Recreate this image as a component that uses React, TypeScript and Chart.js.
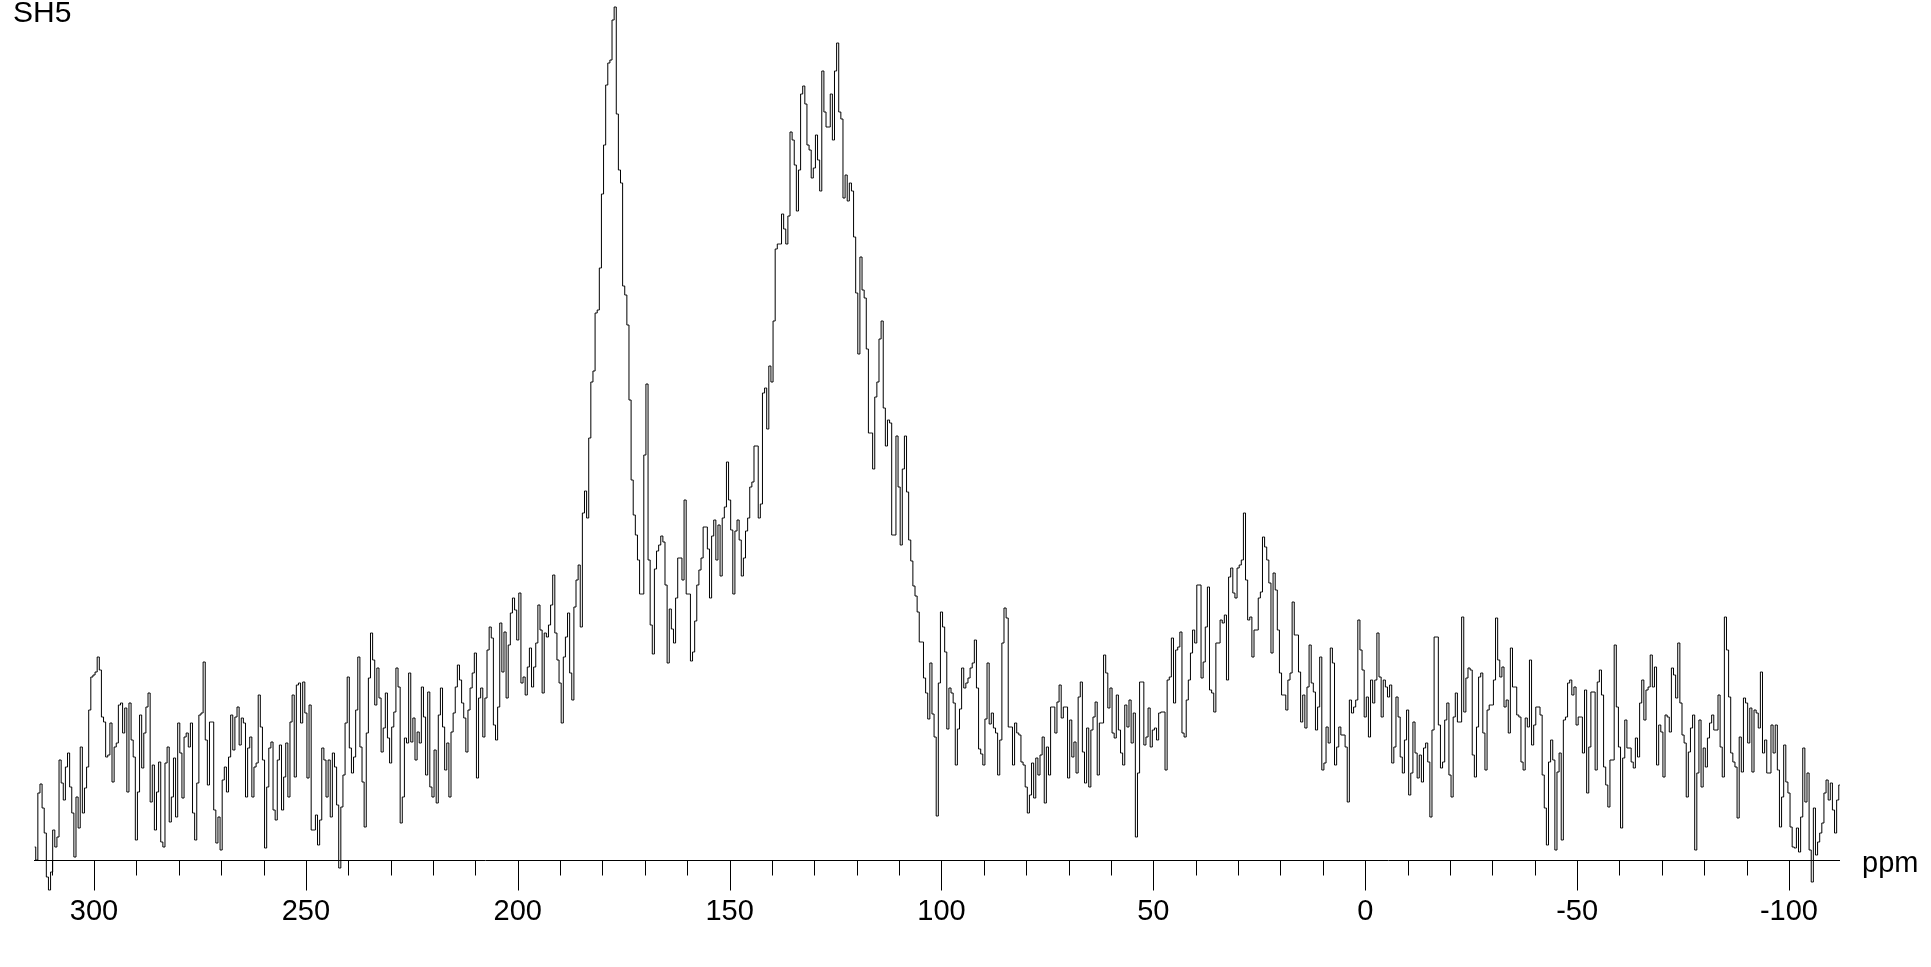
import React, { useEffect, useRef } from "react";
import { Chart, registerables } from "chart.js";

Chart.register(...registerables);

// ---- axis / text ----
const TITLE = "SH5";
const UNIT_LABEL = "ppm";
const AXIS_LEFT_PPM = 314.16;
const AXIS_RIGHT_PPM = -112.04;
const Y_MIN = -107;
const Y_MAX = 860;
const LABEL_TICKS = [300, 250, 200, 150, 100, 50, 0, -50, -100];
const MINOR_TICKS = [
  310, 300, 290, 280, 270, 260, 250, 240, 230, 220, 210, 200, 190, 180, 170, 160, 150, 140, 130, 120, 110,
  100, 90, 80, 70, 60, 50, 40, 30, 20, 10, 0, -10, -20, -30, -40, -50, -60, -70, -80, -90, -100,
];

// ---- spectrum: chemical shift grid ----
const START_PPM = 314;
const STEP_PPM = 0.5;

// ---- spectrum intensities (arbitrary units), one array per 10 ppm block ----
const seg314to300 = [13, 0, 67, 76, 52, 27, -17, -30, -12, 30, 13, 23, 100, 77, 60, 93, 107, 73, 47, 3, 63, 32, 113, 47, 72, 93, 150, 183];
const seg300to290 = [185, 188, 203, 190, 143, 138, 103, 105, 137, 78, 113, 117, 155, 157, 127, 152, 68, 157, 120, 103];
const seg290to280 = [20, 68, 145, 92, 127, 153, 167, 58, 95, 30, 68, 98, 18, 13, 97, 113, 38, 63, 102, 43];
const seg280to270 = [137, 107, 62, 123, 127, 113, 137, 47, 20, 77, 145, 147, 198, 120, 75, 138, 138, 50, 17, 43];
const seg270to260 = [10, 80, 93, 68, 103, 145, 110, 143, 153, 115, 142, 137, 63, 112, 123, 63, 93, 97, 165, 133];
const seg260to250 = [100, 12, 73, 112, 118, 50, 40, 100, 115, 50, 83, 117, 63, 138, 165, 83, 175, 177, 137, 178];
const seg250to240 = [147, 82, 155, 30, 30, 45, 15, 40, 112, 100, 63, 100, 43, 107, 93, 55, -8, 53, 85, 137];
const seg240to230 = [183, 112, 87, 103, 150, 203, 113, 78, 33, 127, 182, 227, 200, 155, 192, 162, 108, 132, 167, 122];
const seg230to220 = [97, 133, 148, 192, 173, 37, 63, 122, 117, 187, 118, 142, 100, 128, 117, 173, 143, 85, 168, 73];
const seg220to210 = [63, 110, 57, 145, 172, 133, 90, 117, 63, 128, 147, 173, 195, 180, 157, 142, 108, 150, 172, 187];
const seg210to200 = [207, 82, 162, 172, 123, 162, 210, 233, 222, 135, 120, 153, 237, 188, 228, 162, 215, 247, 262, 250];
const seg200to190 = [220, 267, 177, 183, 165, 193, 212, 173, 193, 217, 255, 230, 167, 227, 223, 235, 255, 285, 227, 200];
const seg190to180 = [177, 137, 203, 223, 247, 187, 160, 253, 280, 295, 233, 347, 369, 342, 422, 478, 489, 547, 550, 592];
const seg180to170 = [666, 715, 775, 797, 800, 840, 853, 746, 690, 677, 574, 565, 535, 460, 380, 345, 325, 300, 266, 266];
const seg170to160 = [405, 476, 300, 235, 206, 291, 309, 315, 324, 318, 275, 197, 251, 231, 217, 262, 302, 302, 280, 360];
const seg160to150 = [266, 266, 199, 208, 239, 275, 290, 302, 333, 333, 311, 262, 324, 340, 300, 335, 284, 342, 353, 398];
const seg150to140 = [360, 330, 266, 329, 340, 320, 284, 302, 329, 342, 373, 378, 414, 414, 342, 356, 467, 472, 431, 494];
const seg140to130 = [478, 539, 611, 616, 616, 646, 631, 616, 644, 728, 720, 695, 649, 690, 766, 774, 756, 715, 710, 682];
const seg130to120 = [692, 725, 700, 669, 789, 748, 733, 733, 766, 720, 789, 817, 748, 741, 662, 685, 659, 677, 669, 623];
const seg120to110 = [567, 506, 603, 570, 562, 511, 427, 427, 391, 463, 478, 521, 539, 452, 414, 440, 437, 325, 325, 424];
const seg110to100 = [373, 315, 391, 424, 368, 320, 299, 274, 264, 248, 218, 218, 182, 167, 141, 197, 146, 123, 44, 177];
const seg100to90 = [248, 233, 208, 131, 172, 167, 157, 95, 131, 151, 192, 172, 177, 182, 192, 197, 220, 172, 111, 106];
const seg90to80 = [95, 141, 197, 136, 147, 132, 127, 85, 120, 217, 252, 242, 133, 133, 95, 137, 127, 125, 98, 95];
const seg80to70 = [73, 47, 65, 97, 62, 102, 85, 105, 123, 57, 113, 85, 153, 153, 127, 158, 175, 142, 153, 153];
const seg70to60 = [82, 140, 103, 118, 87, 163, 178, 108, 77, 132, 73, 130, 143, 158, 85, 137, 137, 205, 187, 152];
const seg60to50 = [172, 127, 122, 165, 130, 107, 95, 155, 133, 160, 117, 147, 23, 87, 178, 178, 115, 123, 152, 113];
const seg50to40 = [130, 132, 120, 147, 148, 148, 90, 180, 183, 222, 157, 210, 213, 228, 127, 123, 160, 180, 207, 230];
const seg40to30 = [217, 275, 275, 182, 198, 233, 273, 170, 167, 148, 217, 217, 240, 237, 245, 180, 283, 292, 267, 262];
const seg30to20 = [292, 295, 300, 347, 280, 240, 243, 203, 230, 230, 262, 268, 323, 313, 300, 277, 207, 287, 270, 230];
const seg20to10 = [187, 165, 165, 150, 180, 187, 258, 225, 225, 188, 138, 165, 132, 173, 215, 177, 168, 130, 153, 203];
const seg10to0 = [90, 97, 133, 117, 212, 197, 95, 113, 133, 125, 125, 113, 58, 160, 147, 153, 160, 240, 210, 190];
const seg0toM10 = [143, 163, 123, 180, 157, 180, 227, 183, 143, 180, 173, 163, 175, 97, 113, 163, 143, 103, 87, 120];
const segM10toM20 = [150, 65, 87, 138, 107, 82, 105, 78, 112, 117, 98, 43, 130, 223, 223, 135, 92, 98, 140, 157];
const segM20toM30 = [85, 63, 143, 167, 138, 138, 243, 148, 182, 192, 190, 105, 83, 133, 183, 187, 127, 90, 150, 155];
const segM30toM40 = [155, 180, 242, 200, 183, 193, 153, 160, 127, 212, 173, 173, 145, 143, 98, 90, 142, 133, 200, 115];
const segM40toM50 = [135, 153, 153, 145, 85, 52, 15, 98, 120, 100, 10, 88, 107, 20, 140, 143, 177, 180, 165, 173];
const segM50toM60 = [135, 143, 143, 107, 170, 67, 113, 168, 168, 90, 178, 190, 165, 93, 75, 53, 100, 100, 215, 153];
const segM60toM70 = [113, 32, 102, 140, 112, 112, 98, 92, 122, 103, 157, 180, 140, 170, 173, 205, 173, 193, 95, 135];
const segM70toM80 = [128, 83, 145, 143, 128, 192, 185, 162, 217, 157, 125, 117, 63, 108, 132, 145, 10, 87, 140, 73];
const segM80toM90 = [112, 93, 122, 137, 145, 130, 130, 165, 113, 83, 243, 210, 163, 107, 98, 93, 42, 123, 88, 162];
const segM90toM100 = [157, 117, 152, 88, 150, 147, 132, 188, 107, 120, 87, 87, 135, 107, 135, 90, 33, 63, 115, 78];
const segM100toM112 = [67, 33, 13, 12, 32, 8, 43, 112, 58, 87, 10, -22, 52, 5, 18, 27, 37, 67, 80, 60, 77, 50, 27, 60, 75];

const INTENSITY: number[] = [
  ...seg314to300, ...seg300to290, ...seg290to280, ...seg280to270, ...seg270to260, ...seg260to250,
  ...seg250to240, ...seg240to230, ...seg230to220, ...seg220to210, ...seg210to200, ...seg200to190,
  ...seg190to180, ...seg180to170, ...seg170to160, ...seg160to150, ...seg150to140, ...seg140to130,
  ...seg130to120, ...seg120to110, ...seg110to100, ...seg100to90, ...seg90to80, ...seg80to70,
  ...seg70to60, ...seg60to50, ...seg50to40, ...seg40to30, ...seg30to20, ...seg20to10, ...seg10to0,
  ...seg0toM10, ...segM10toM20, ...segM20toM30, ...segM30toM40, ...segM40toM50, ...segM50toM60,
  ...segM60toM70, ...segM70toM80, ...segM80toM90, ...segM90toM100, ...segM100toM112,
];

const FONT = '"Liberation Sans", Arial, Helvetica, sans-serif';

const axisPlugin = {
  id: "nmrAxis",
  afterDraw(chart: any) {
    const { ctx } = chart;
    const xs = chart.scales.x;
    const ys = chart.scales.y;
    const y0 = Math.round(ys.getPixelForValue(0)) + 0.5;
    const xl = xs.getPixelForValue(AXIS_LEFT_PPM);
    const xr = xs.getPixelForValue(AXIS_RIGHT_PPM);
    ctx.save();
    ctx.strokeStyle = "#000";
    ctx.lineWidth = 1;
    ctx.beginPath();
    ctx.moveTo(xl, y0);
    ctx.lineTo(xr, y0);
    for (const t of MINOR_TICKS) {
      const px = Math.round(xs.getPixelForValue(t)) + 0.5;
      const len = LABEL_TICKS.includes(t) ? 30 : 15;
      ctx.moveTo(px, y0);
      ctx.lineTo(px, y0 + len);
    }
    ctx.stroke();
    ctx.fillStyle = "#000";
    ctx.font = `29px ${FONT}`;
    ctx.textAlign = "center";
    ctx.textBaseline = "alphabetic";
    for (const t of LABEL_TICKS) {
      ctx.fillText(String(t), xs.getPixelForValue(t), y0 + 59);
    }
    ctx.textAlign = "left";
    ctx.fillText(UNIT_LABEL, xr + 22, y0 + 11);
    ctx.font = `30px ${FONT}`;
    ctx.fillText(TITLE, 13, 22);
    ctx.restore();
  },
};

export default function App() {
  const ref = useRef<HTMLCanvasElement | null>(null);
  useEffect(() => {
    if (!ref.current) return;
    const points = INTENSITY.map((v, i) => ({ x: START_PPM - i * STEP_PPM, y: v }));
    const chart = new Chart(ref.current, {
      type: "line",
      data: {
        datasets: [
          {
            data: points,
            borderColor: "#000",
            borderWidth: 1,
            pointRadius: 0,
            stepped: "middle",
            fill: false,
            tension: 0,
          },
        ],
      },
      options: {
        animation: false,
        responsive: false,
        maintainAspectRatio: false,
        events: [],
        layout: { autoPadding: false, padding: { left: 34, right: 91, top: 0, bottom: 0 } },
        plugins: { legend: { display: false }, tooltip: { enabled: false }, title: { display: false } },
        scales: {
          x: { type: "linear", reverse: true, min: AXIS_RIGHT_PPM, max: AXIS_LEFT_PPM, display: false },
          y: { type: "linear", min: Y_MIN, max: Y_MAX, display: false },
        },
      },
      plugins: [axisPlugin],
    } as any);
    return () => chart.destroy();
  }, []);
  return (
    <div style={{ position: "fixed", left: 0, top: 0, width: 1931, height: 967, background: "#fff" }}>
      <canvas ref={ref} width={1931} height={967} style={{ display: "block", width: 1931, height: 967 }} />
    </div>
  );
}
